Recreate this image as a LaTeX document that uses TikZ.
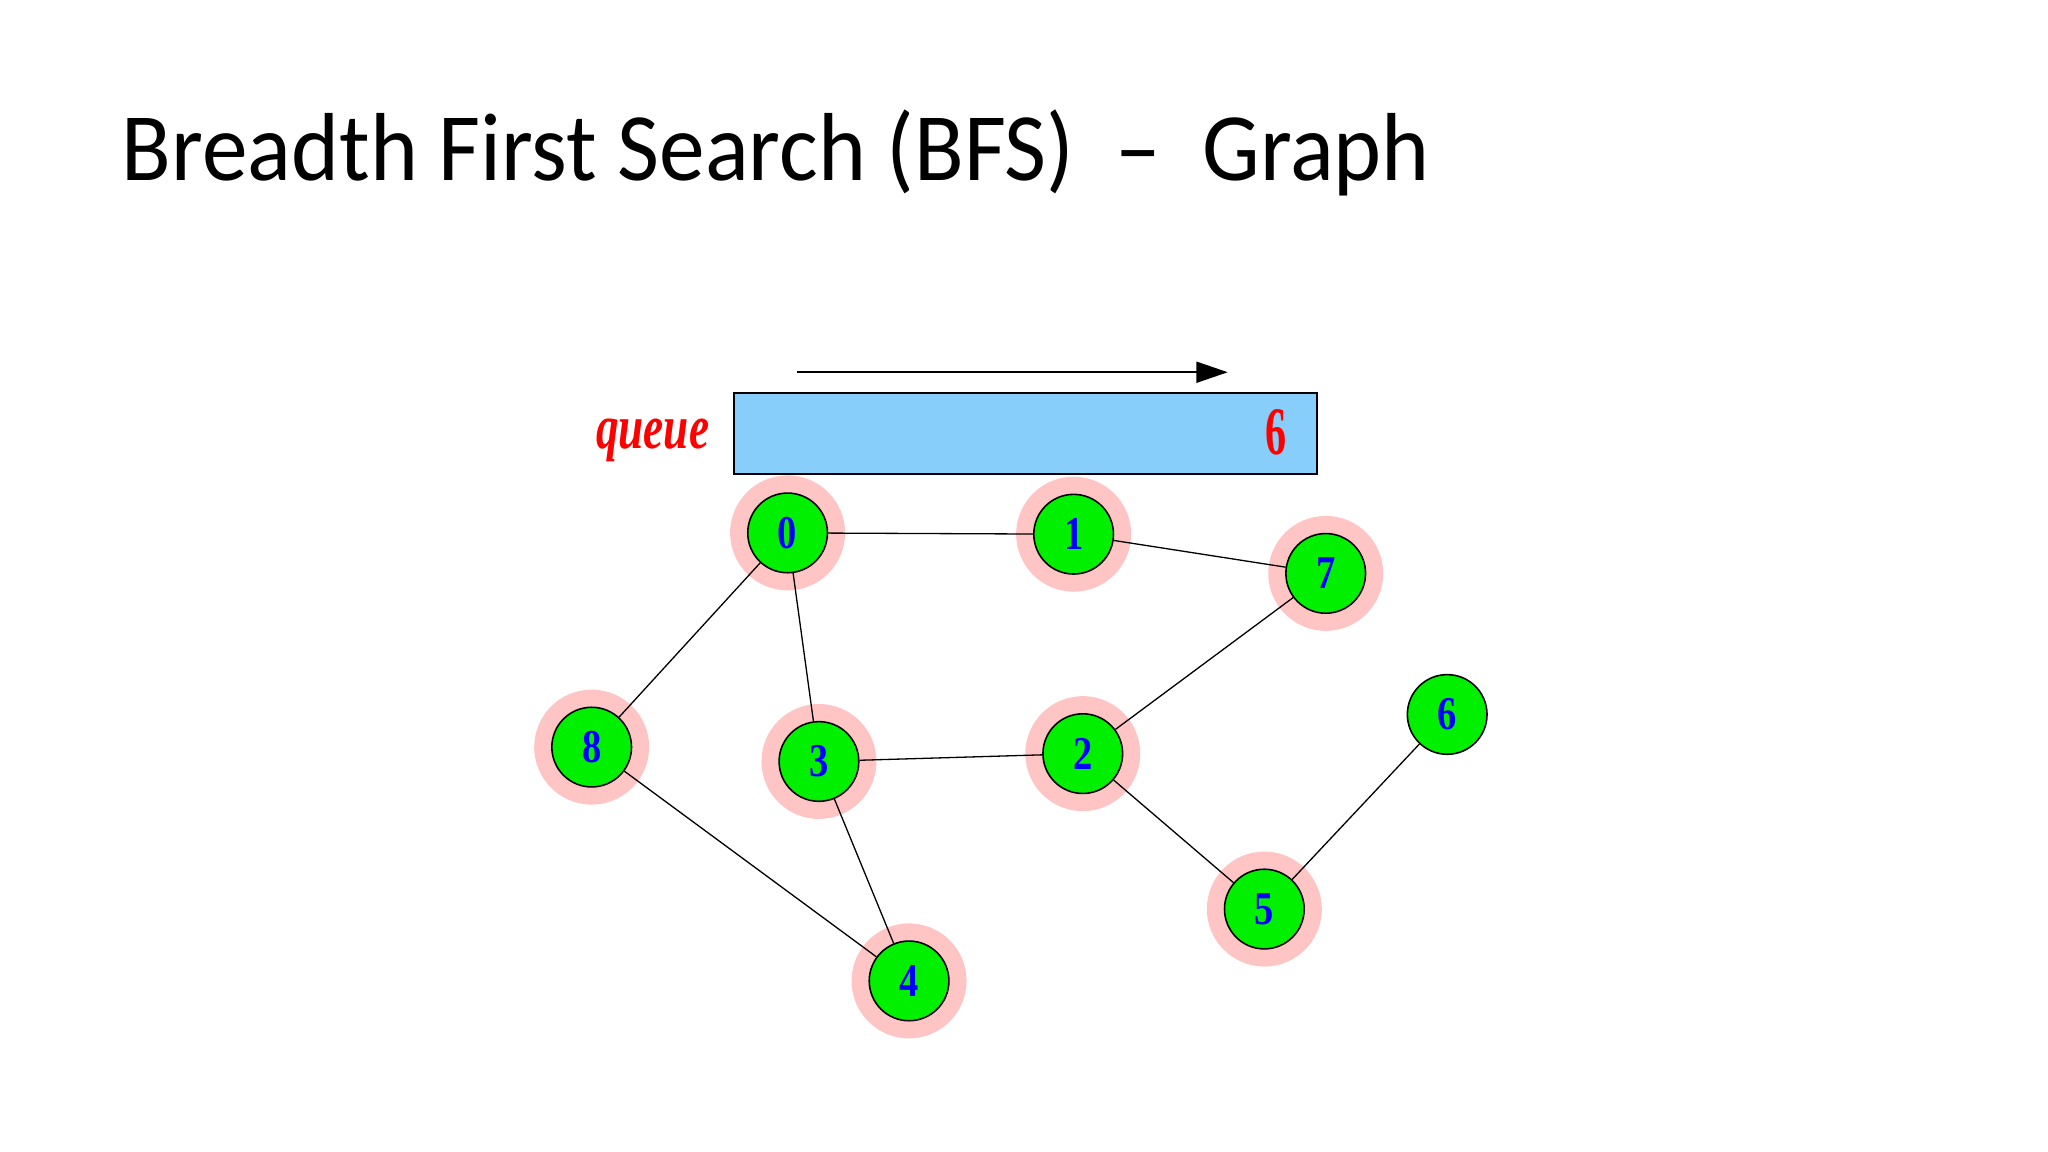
\documentclass[tikz,border=0pt]{standalone}
\usepackage{fontspec}
\setmainfont{Liberation Serif}
\newfontfamily\titlefont{Carlito}
\usetikzlibrary{backgrounds,arrows.meta}
\definecolor{nodegreen}{RGB}{0,240,0}
\definecolor{halopink}{RGB}{255,196,196}
\definecolor{queueblue}{RGB}{135,206,250}
\begin{document}
\begin{tikzpicture}[x=0.5pt,y=-0.5pt,
  vert/.style={circle,draw=black,line width=0.6pt,fill=nodegreen,minimum size=30.5pt,inner sep=0pt,
    font=\fontsize{18}{18}\selectfont\bfseries,text=blue},
  halo/.style={fill=halopink},
  edge/.style={draw=black,line width=0.5pt}]
\useasboundingbox (0,0) rectangle (1568,882);
\node[anchor=base west,inner sep=0pt,xscale=0.945,font=\titlefont\fontsize{37}{37}\selectfont] (title) at (93,138) {Breadth First Search (BFS) \ – \ Graph};
% queue
\coordinate (arrs) at (610,285);
\coordinate (arre) at (940,285);
\draw[line width=0.8pt,-{Triangle[length=12pt,width=8pt]}] (arrs) -- (arre);
\node[draw=black,line width=0.8pt,fill=queueblue,minimum width=223pt,minimum height=31pt,inner sep=0pt] (queue) at (785,332) {};
\node[text=red,font=\fontsize{24}{24}\selectfont\bfseries\itshape,xscale=0.72,anchor=east] (qlabel) at (548,337) {queue};
\node[text=red,font=\fontsize{26}{26}\selectfont\bfseries,xscale=0.62] (q6) at (977,331) {6};
% vertices
\node[vert] (n0) at (603,408) {\scalebox{0.82}[1]{0}};
\node[vert] (n1) at (822,409) {\scalebox{0.82}[1]{1}};
\node[vert] (n7) at (1015,439) {\scalebox{0.82}[1]{7}};
\node[vert] (n8) at (453,572) {\scalebox{0.82}[1]{8}};
\node[vert] (n3) at (627,583) {\scalebox{0.82}[1]{3}};
\node[vert] (n2) at (829,577) {\scalebox{0.82}[1]{2}};
\node[vert] (n6) at (1108,547) {\scalebox{0.82}[1]{6}};
\node[vert] (n5) at (968,696) {\scalebox{0.82}[1]{5}};
\node[vert] (n4) at (696,751) {\scalebox{0.82}[1]{4}};
\begin{scope}[on background layer]
  \fill[white] (0,0) rectangle (1568,882);
  \foreach \n in {n0,n1,n7,n8,n3,n2,n5,n4}
    \fill[halo] (\n) circle[radius=22pt];
  \draw[edge] (n0) -- (n1);
  \draw[edge] (n1) -- (n7);
  \draw[edge] (n0) -- (n8);
  \draw[edge] (n0) -- (n3);
  \draw[edge] (n3) -- (n2);
  \draw[edge] (n7) -- (n2);
  \draw[edge] (n8) -- (n4);
  \draw[edge] (n3) -- (n4);
  \draw[edge] (n2) -- (n5);
  \draw[edge] (n5) -- (n6);
\end{scope}
\end{tikzpicture}
\end{document}
